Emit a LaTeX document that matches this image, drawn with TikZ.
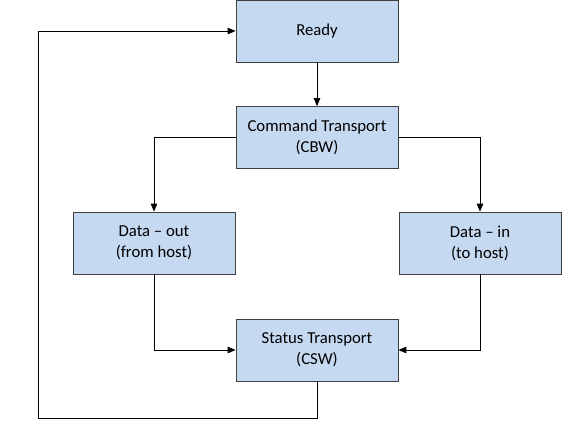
\documentclass[tikz,border=0pt]{standalone}
\usepackage{fontspec}
\setmainfont{Carlito}
\usetikzlibrary{arrows, positioning}
\definecolor{boxfill}{HTML}{C5D9F1}
\definecolor{boxline}{HTML}{3F3F3F}

\begin{document}
\begin{tikzpicture}[>=triangle 45, x=1bp, y=-1bp,
	state/.style={draw=boxline, line width=0.9bp, fill=boxfill, minimum width=162bp, minimum height=62bp, align=center, inner sep=0pt, font=\fontsize{16.8}{21}\selectfont},
	flow/.style={->, line width=0.8bp}]
	\useasboundingbox (0,0) rectangle (562,432);

	\node[state] (ready) at (317,31) {Ready};
	\node[state] (cbw) at (317,137.5) {Command Transport\\(CBW)};
	\node[state] (dout) at (154,243) {Data -- out\\(from host)};
	\node[state] (din) at (480,243) {Data -- in\\(to host)};
	\node[state] (csw) at (317,350) {Status Transport\\(CSW)};
	\coordinate (loopbot) at (38,418); \coordinate (looptop) at (38,31);

	\draw[flow] (ready) -- (cbw);
	\draw[flow] (cbw.west) -| (dout.north); \draw[flow] (cbw.east) -| (din.north);
	\draw[flow] (dout.south) |- (csw.west); \draw[flow] (din.south) |- (csw.east);
	\draw[flow] (csw.south) |- (loopbot) -- (looptop) -- (ready.west);
\end{tikzpicture}
\end{document}
